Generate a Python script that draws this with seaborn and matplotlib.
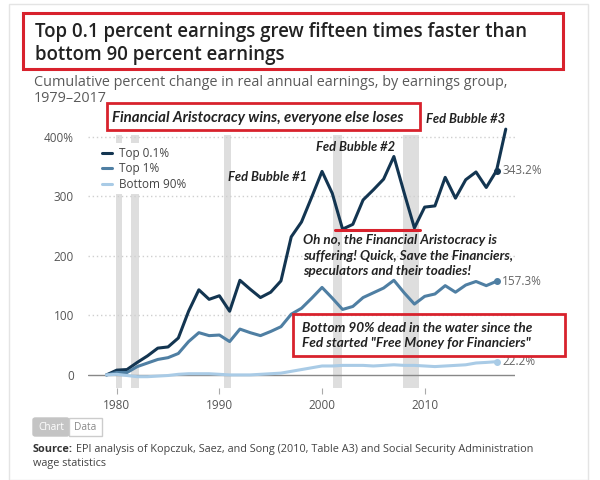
import matplotlib
matplotlib.use('Agg')
import matplotlib.pyplot as plt
from matplotlib.patches import Rectangle, FancyBboxPatch
from matplotlib.lines import Line2D
import seaborn as sns
import pandas as pd

# data
years = list(range(1979, 2018))
top01 = [0, 8, 9, 21, 32, 45, 47, 62, 107, 143,
         127, 133, 107, 159, 144, 130, 139, 158, 232, 257,
         299, 342, 305, 245, 253, 294, 311, 329, 367, 306,
         247, 282, 284, 332, 297, 328, 341, 315, 343.2]
top1 = [0, 4, 4, 14, 20, 26, 29, 36, 56, 71,
        66, 67, 56, 77, 71, 66, 73, 81, 102, 112,
        129, 147, 129, 110, 115, 130, 138, 146, 159, 138,
        119, 132, 136, 150, 139, 151, 157, 150, 157.3]
bottom90 = [0, 1, -1, -3, -3, -2, -1, 1, 2, 2,
            2, 1, 0, 0, 0, 1, 2, 3, 6, 9,
            12, 15, 15, 16, 16, 16, 15, 16, 17, 16,
            16, 15, 14, 15, 16, 17, 20, 21, 22.2]
groups = ['Top 0.1%', 'Top 1%', 'Bottom 90%']
end_labels = ['343.2%', '157.3%', '22.2%']
bubble3_years = [2017, 2017.9]
bubble3_vals = [343.2, 413]
recessions = [(1979.95, 1980.5), (1981.4, 1982.2), (1990.45, 1991.1),
              (2001.1, 2001.9), (2007.9, 2009.45)]

colors = {'Top 0.1%': '#133551', 'Top 1%': '#4f7fa3', 'Bottom 90%': '#a9cbe6'}
red = '#d8222d'
ink = '#222222'

df = pd.DataFrame({'year': years * 3,
                   'value': top01 + top1 + bottom90,
                   'group': [g for g in groups for _ in years]})

sns.set_style('white')
plt.rcParams['font.family'] = ['Open Sans', 'DejaVu Sans']

W, H = 600, 480
def fx(px):
    return px / W
def fy(py):
    return 1 - py / H

fig = plt.figure(figsize=(6, 4.8), dpi=100)
ax = fig.add_axes([fx(88), fy(388), 427 / W, 253.5 / H])

for a, b in recessions:
    ax.axvspan(a, b, color='#dedede', lw=0, zorder=0)
for v in [100, 200, 300, 400]:
    ax.axhline(v, color='#cfcfcf', lw=1, ls=(0, (1, 2)), zorder=1)
ax.axhline(0, color='#888888', lw=1, zorder=1)

sns.lineplot(data=df, x='year', y='value', hue='group', hue_order=groups,
             palette=colors, lw=2.2, ax=ax, zorder=3, legend=False)
ax.plot(bubble3_years, bubble3_vals, color=colors['Top 0.1%'], lw=2.2,
        clip_on=False, zorder=3)

for g, lab, s in zip(groups, end_labels, [top01, top1, bottom90]):
    ax.plot(years[-1], s[-1], 'o', color=colors[g], ms=4, zorder=4)
    ax.annotate(lab, (years[-1], s[-1]), xytext=(4, 0), textcoords='offset points',
                va='center', ha='left', fontsize=8.5, color='#666666')

ax.set_xlim(1977.2, 2018.8)
ax.set_ylim(-22, 404)
ax.set_xticks([1980, 1990, 2000, 2010])
ax.set_yticks([0, 100, 200, 300, 400])
ax.set_yticklabels(['0', '100', '200', '300', '400%'])
ax.tick_params(axis='y', length=0, pad=10, labelsize=8.5, labelcolor='#555555')
ax.tick_params(axis='x', length=4, width=0.8, color='#aaaaaa', pad=4,
               labelsize=8.5, labelcolor='#555555', direction='out', bottom=True)
ax.set_xlabel('')
ax.set_ylabel('')
for sp in ax.spines.values():
    sp.set_visible(False)
ax.patch.set_alpha(0)

handles = [Line2D([], [], color=colors[g], lw=2.2) for g in groups]
leg = ax.legend(handles, groups, loc='upper left', bbox_to_anchor=(0.025, 0.965),
                frameon=True, fontsize=8.5, handlelength=0.8, handletextpad=0.6,
                labelspacing=0.2, borderpad=0.3, borderaxespad=0)
leg.get_frame().set_facecolor('white')
leg.get_frame().set_edgecolor('none')
leg.get_frame().set_alpha(1)
for t in leg.get_texts():
    t.set_color('#444444')

# outer frame
fig.add_artist(Rectangle((fx(9), fy(480)), 579 / W, 476 / H, transform=fig.transFigure,
                         fill=False, ec='#e4e4e4', lw=1))

# title and subtitle
fig.text(fx(35), fy(37), 'Top 0.1 percent earnings grew fifteen times faster than',
         fontsize=13.4, weight='semibold', color=ink, va='baseline')
fig.text(fx(35), fy(60), 'bottom 90 percent earnings',
         fontsize=13.4, weight='semibold', color=ink, va='baseline')
fig.add_artist(Rectangle((fx(23), fy(69)), 540 / W, 56 / H, transform=fig.transFigure,
                         fill=False, ec=red, lw=2.2))
fig.text(fx(34), fy(86), 'Cumulative percent change in real annual earnings, by earnings group,',
         fontsize=10.4, color='#5a5a5a', va='baseline')
fig.text(fx(34), fy(102), '1979\u20132017', fontsize=10.4, color='#5a5a5a', va='baseline')

# blogger annotations
note = dict(family=['Lato', 'DejaVu Sans'], weight='bold', style='italic',
            color=ink, va='baseline')
fig.text(fx(112), fy(122), 'Financial Aristocracy wins, everyone else loses', fontsize=10.8, **note)
fig.add_artist(Rectangle((fx(107), fy(130)), 313 / W, 27 / H, transform=fig.transFigure,
                         fill=False, ec=red, lw=2))
fig.text(fx(426), fy(123), 'Fed Bubble #3', fontsize=9.3, **note)
fig.text(fx(316), fy(151), 'Fed Bubble #2', fontsize=9.3, **note)
fig.text(fx(228), fy(181), 'Fed Bubble #1', fontsize=9.3, **note)
fig.add_artist(Line2D([fx(335), fx(420)], [fy(230), fy(230)], transform=fig.transFigure,
                      color=red, lw=2.2))
oh_no = ['Oh no, the Financial Aristocracy is',
         'suffering! Quick, Save the Financiers,',
         'speculators and their toadies!']
for i, line in enumerate(oh_no):
    fig.text(fx(303), fy(244 + 15.5 * i), line, fontsize=9.7, **note)
dead = ['Bottom 90% dead in the water since the',
        'Fed started "Free Money for Financiers"']
for i, line in enumerate(dead):
    fig.text(fx(302), fy(332 + 15 * i), line, fontsize=9.8, **note)
fig.add_artist(Rectangle((fx(293), fy(356)), 272 / W, 42 / H, transform=fig.transFigure,
                         fill=False, ec=red, lw=2))

# Chart / Data toggle
fig.add_artist(FancyBboxPatch((fx(33), fy(436)), 36 / W, 18 / H, transform=fig.transFigure,
                              boxstyle='round,pad=0,rounding_size=0.004',
                              fc='#c4c4c4', ec='#c4c4c4', lw=1))
fig.add_artist(Rectangle((fx(69), fy(436)), 33 / W, 18 / H, transform=fig.transFigure,
                         fc='white', ec='#cccccc', lw=1))
fig.text(fx(51), fy(427), 'Chart', fontsize=7.3, color='white', ha='center', va='center')
fig.text(fx(85.5), fy(427), 'Data', fontsize=7.3, color='#888888', ha='center', va='center')

# source
src = fig.text(fx(33), fy(452), 'Source:', fontsize=7.8, weight='bold', color='#333333',
               va='baseline')
fig.canvas.draw()
bb = src.get_window_extent(fig.canvas.get_renderer())
fig.text(bb.x1 / fig.dpi / 6 + fx(3), fy(452),
         'EPI analysis of Kopczuk, Saez, and Song (2010, Table A3) and Social Security Administration',
         fontsize=7.8, color='#444444', va='baseline')
fig.text(fx(33), fy(466), 'wage statistics', fontsize=7.8, color='#444444', va='baseline')

fig.savefig('out.png', dpi=100)
